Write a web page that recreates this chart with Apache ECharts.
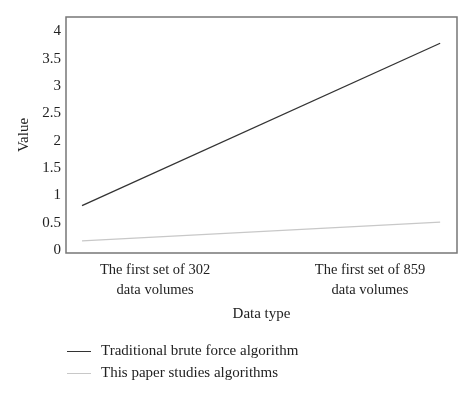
<!DOCTYPE html>
<html><head><meta charset="utf-8">
<script src="https://cdn.jsdelivr.net/npm/echarts@6/dist/echarts.min.js"></script>
<style>html,body{margin:0;padding:0;background:#fff}#c{width:474px;height:396px}</style>
</head><body><div id="c"></div>
<script>
var categories = ['The first set of 302\ndata volumes', 'The first set of 859\ndata volumes'];
var categoryLabelPos = [0.204, 0.804];
var seriesNames = ['Traditional brute force algorithm', 'This paper studies algorithms'];
var bruteForce = [0.81, 3.78];
var paperAlgo = [0.165, 0.51];
var yTicks = [0, 0.5, 1, 1.5, 2, 2.5, 3, 3.5, 4];

var font = '"Liberation Serif", "DejaVu Serif", serif';
function pts(vals){ return vals.map(function(v,i){ return [i, v]; }); }
var chart = echarts.init(document.getElementById('c'));
chart.setOption({
  animation: false,
  grid: {left: 66, right: 17, top: 17, bottom: 143, show: true, borderColor: '#777', borderWidth: 1.5},
  xAxis: {
    type: 'value', min: -0.0447, max: 1.047,
    name: 'Data type', nameLocation: 'middle', nameGap: 54,
    nameTextStyle: {fontFamily: font, fontSize: 15, color: '#222'},
    axisLine: {show: false}, axisTick: {show: false}, splitLine: {show: false},
    axisLabel: {
      customValues: categoryLabelPos, margin: 7, lineHeight: 20,
      fontFamily: font, fontSize: 14.5, color: '#222',
      formatter: function(v){ var i = categoryLabelPos.indexOf(v); return i >= 0 ? categories[i] : ''; }
    }
  },
  yAxis: {
    type: 'value', min: -0.055, max: 4.26,
    name: 'Value', nameLocation: 'middle', nameGap: 34, nameRotate: 90,
    nameTextStyle: {fontFamily: font, fontSize: 15, color: '#222'},
    axisLine: {show: false}, axisTick: {show: false}, splitLine: {show: false},
    axisLabel: {customValues: yTicks, margin: 5, fontFamily: font, fontSize: 15, color: '#222'}
  },
  legend: {
    orient: 'vertical', left: 62, top: 339, itemWidth: 24, itemHeight: 10, itemGap: 7,
    icon: 'path://M0,0 L24,0 L24,1 L0,1 Z',
    textStyle: {fontFamily: font, fontSize: 15, color: '#222', padding: [0,0,0,5]},
    data: seriesNames
  },
  series: [
    {name: seriesNames[0], type: 'line', data: pts(bruteForce), symbol: 'none',
     lineStyle: {color: '#333', width: 1.3}, itemStyle: {color: '#333'}},
    {name: seriesNames[1], type: 'line', data: pts(paperAlgo), symbol: 'none',
     lineStyle: {color: '#c8c8c8', width: 1.3}, itemStyle: {color: '#c8c8c8'}}
  ]
});
</script></body></html>
